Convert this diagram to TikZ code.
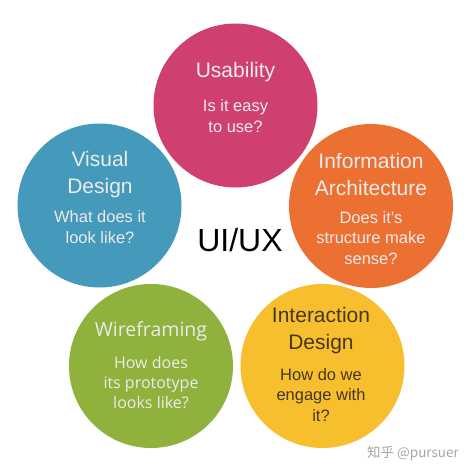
\documentclass[tikz,border=0pt]{standalone}
\usepackage{fontspec}
\setmainfont{Liberation Sans}
\newfontfamily\wireFont{Open Sans}
\newfontfamily\cjkFont{Noto Sans CJK SC}
\definecolor{uxPink}{RGB}{208,64,110}
\definecolor{uxBlue}{RGB}{69,153,186}
\definecolor{uxOrange}{RGB}{236,112,50}
\definecolor{uxGreen}{RGB}{143,178,60}
\definecolor{uxYellow}{RGB}{247,191,46}
\definecolor{uxDark}{RGB}{70,55,30}

\begin{document}
\begin{tikzpicture}[x=1pt, y=-1pt,
  bubble/.style={circle, minimum size=164pt, inner sep=0pt},
  head/.style={align=center, inner sep=0pt, text=white!92!black, font=\fontsize{21}{27}\selectfont},
  ask/.style={align=center, inner sep=0pt, text=white!92!black, font=\fontsize{16.5}{20.5}\selectfont}]
\fill[white] (0,0) rectangle (474,474);
\useasboundingbox (0,0) rectangle (474,474);

% circles
\node (usability)   [bubble, fill=uxPink]   at (235.5,105.5) {};
\node (visual)      [bubble, fill=uxBlue]   at (99.5,205.5)  {};
\node (information) [bubble, fill=uxOrange] at (371,206)     {};
\node (wireframing) [bubble, fill=uxGreen]  at (151,366)     {};
\node (interaction) [bubble, fill=uxYellow] at (322.5,366)   {};

% titles and questions
\node (usabilityHead) [head] at (235.5,72)  {Usability};
\node (usabilityAsk)  [ask]  at (235.5,116) {Is it easy\\to use?};

\node (visualHead) [head] at (100,175) {Visual\\Design};
\node (visualAsk)  [ask]  at (100,227) {What does it\\look like?};

\node (informationHead) [head] at (371,174.5) {Information\\Architecture};
\node (informationAsk)  [ask]  at (371,238)   {Does it's\\structure make\\sense?};

\node (wireframingHead) [head, font=\wireFont\fontsize{19.5}{27}\selectfont] at (151,331) {Wireframing};
\node (wireframingAsk)  [ask, font=\wireFont\fontsize{16}{20}\selectfont]    at (151,383) {How does\\its prototype\\looks like?};

\node (interactionHead) [head, text=uxDark] at (321,331) {Interaction\\Design};
\node (interactionAsk)  [ask, text=uxDark]  at (321,395) {How do we\\engage with\\it?};

% centre
\node (uiux) [font=\fontsize{32}{36}\selectfont, inner sep=0pt] at (240,240) {UI/UX};

% watermark
\node (mark) [font=\cjkFont\fontsize{13.5}{16}\selectfont, text=black!35, inner sep=0pt] at (413,453) {知乎 @pursuer};
\end{tikzpicture}
\end{document}
